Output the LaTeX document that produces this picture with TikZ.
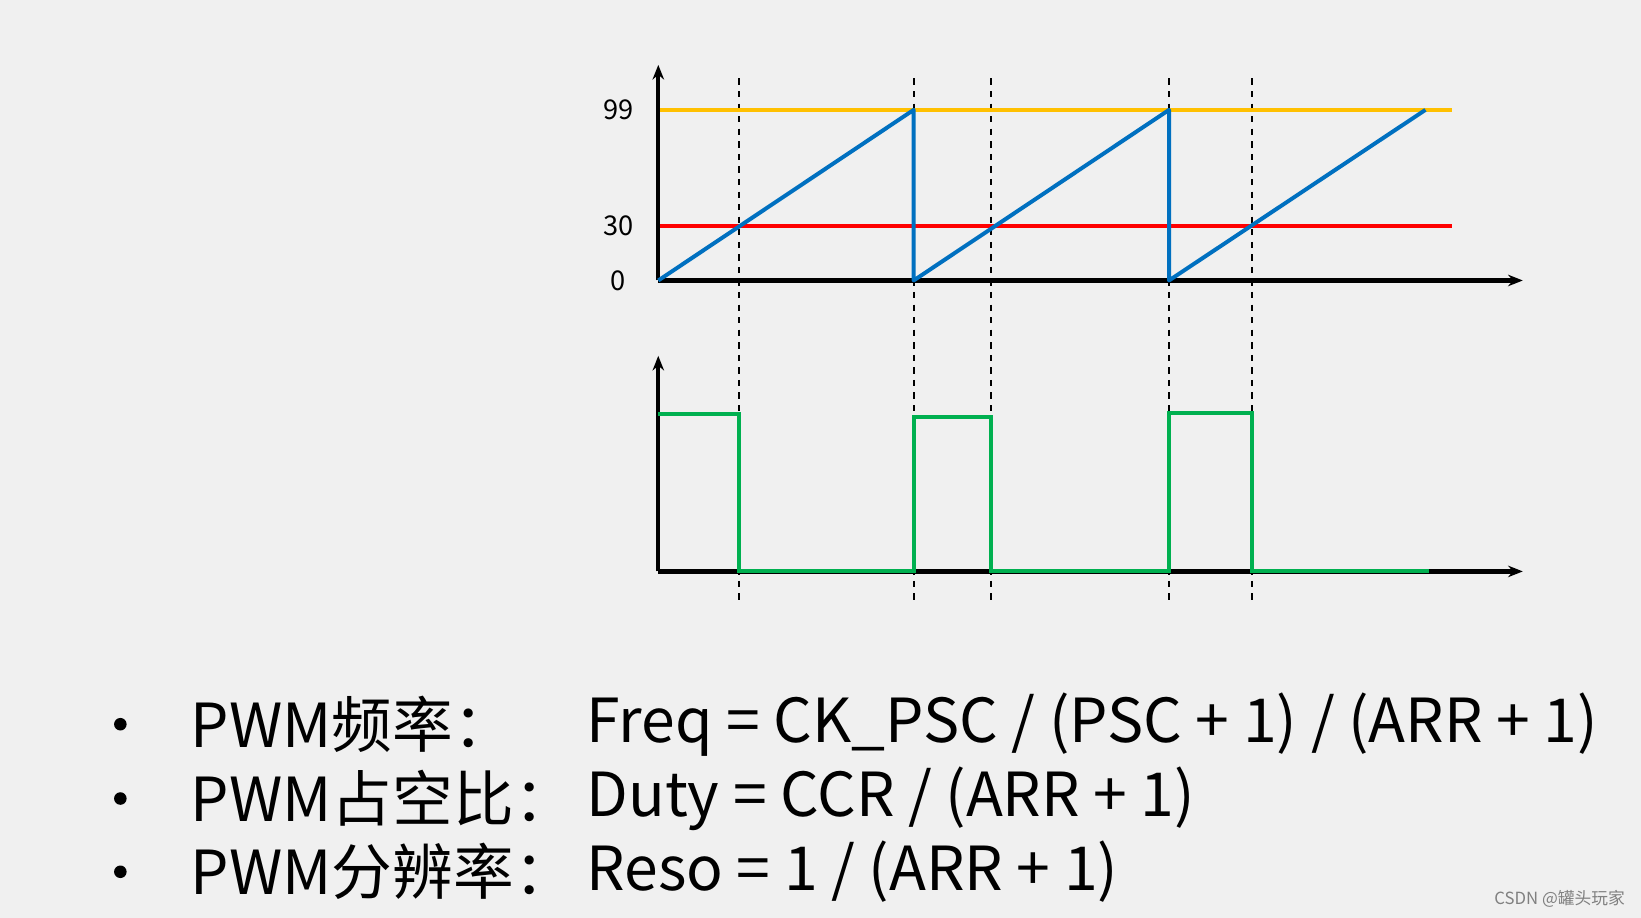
\documentclass[tikz,border=0pt]{standalone}
\usepackage{fontspec}
\setmainfont{Noto Sans CJK SC}
\usetikzlibrary{arrows.meta}
\definecolor{bg}{HTML}{F0F0F0}
\definecolor{cor}{HTML}{FFC000}
\definecolor{cred}{HTML}{FF0000}
\definecolor{cblue}{HTML}{0070C0}
\definecolor{cgreen}{HTML}{00B050}
\begin{document}
\begin{tikzpicture}[x=0.5pt,y=-0.5pt,
  axis/.style={line width=2.1pt,-{Stealth[length=7pt,width=5.5pt]}},
  guide/.style={dashed,line width=1pt},
  sig/.style={line width=1.9pt},
  lbl/.style={font=\fontsize{13}{15}\selectfont,anchor=east,inner sep=0pt},
  big/.style={font=\fontsize{29}{34}\selectfont,anchor=west,inner sep=0pt}]
\fill[bg] (0,0) rectangle (1568,877);
\useasboundingbox (0,0) rectangle (1568,877);
\foreach \x in {706,873,947,1117,1196} \draw[guide] (\x,75) -- (\x,575);
\draw[sig,cor] (629,105) -- (1387,105);
\draw[sig,cred] (629,216) -- (1387,216);
\coordinate (o1) at (629,268);
\coordinate (ya) at (629,62);
\coordinate (xa) at (1455,268);
\draw[axis] (o1) -- (ya);
\draw[axis] (o1) -- (xa);
\draw[sig,cblue,line join=round] (629,268) -- (873,105) -- (873,268) -- (1117,105) -- (1117,268) -- (1362,105);
\coordinate (o2) at (629,546);
\coordinate (yb) at (629,340);
\coordinate (xb) at (1455,546);
\draw[axis] (o2) -- (yb);
\draw[axis] (o2) -- (xb);
\draw[sig,cgreen] (629,396) -- (706,396) -- (706,546) -- (873,546) -- (873,398) -- (947,398) -- (947,546) -- (1117,546) -- (1117,395) -- (1196,395) -- (1196,546) -- (1365,546);
\node[lbl] (l99) at (606,105) {99};
\node[lbl] (l30) at (606,216) {30};
\node[lbl] (l0) at (598,268) {0};
\foreach \y/\a/\b [count=\i] in {692/PWM频率：/{Freq = CK\_PSC / (PSC + 1) / (ARR + 1)},763/PWM占空比：/{Duty = CCR / (ARR + 1)},833/PWM分辨率：/{Reso = 1 / (ARR + 1)}}{
  \fill (115,\y) circle (6);
  \node[big] (a\i) at (182,\y) {\a};
  \node[big] (b\i) at (560,\y) {\b};
}
\node[font=\fontsize{8}{10}\selectfont,text=gray,anchor=east,inner sep=0pt] (wm) at (1553,859) {CSDN @罐头玩家};
\end{tikzpicture}
\end{document}
